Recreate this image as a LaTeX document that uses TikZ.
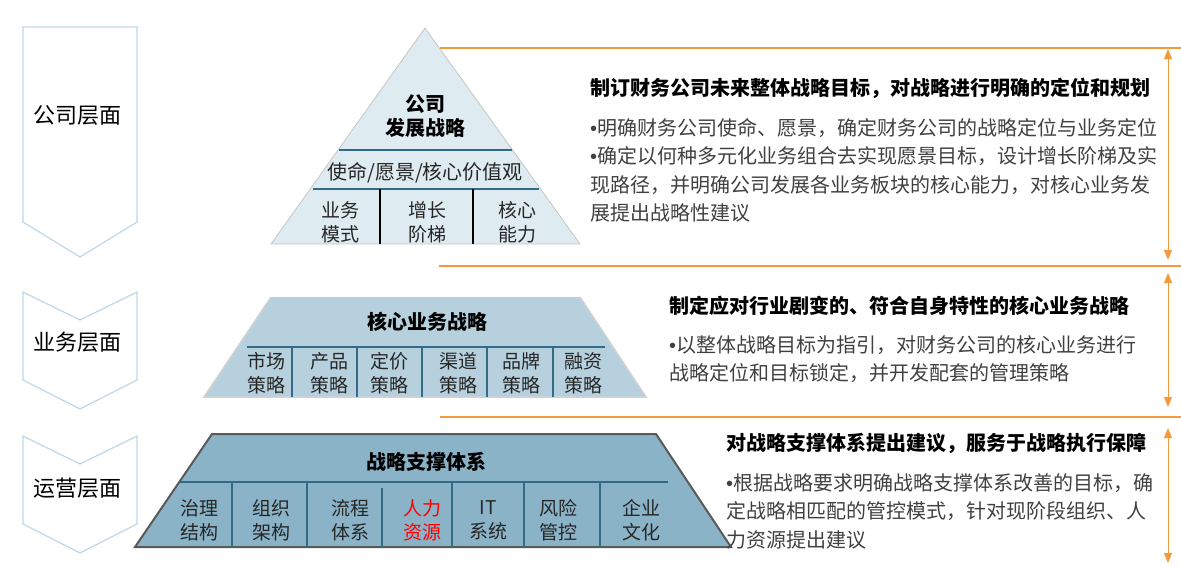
\documentclass[tikz,border=0pt]{standalone}
\usepackage{fontspec}
\setmainfont{Noto Sans CJK SC}
\newfontfamily\latinfont{Liberation Sans}
\usetikzlibrary{arrows.meta}

\definecolor{chev}{HTML}{BDD8E4}
\definecolor{pale}{HTML}{DEEBF1}
\definecolor{mid}{HTML}{B6D1DD}
\definecolor{deep}{HTML}{8BB3C7}
\definecolor{steel}{HTML}{336B84}
\definecolor{guide}{HTML}{F59A3C}
\definecolor{body}{HTML}{404040}

\newcommand{\bul}{{\latinfont •}}

\begin{document}
\begin{tikzpicture}[x=1pt,y=-1pt,
    layer/.style={draw=chev,line width=1.2pt},
    lvltext/.style={font=\fontsize{22}{26}\selectfont},
    band/.style={draw=steel,line width=2pt},
    cell/.style={align=center,inner sep=0,font=\fontsize{19}{24}\selectfont,text=black!85},
    title/.style={align=center,inner sep=0,font=\bfseries\fontsize{20}{24}\selectfont},
    head/.style={anchor=west,inner sep=0,font=\bfseries\fontsize{20}{24}\selectfont},
    txt/.style={anchor=north west,align=left,inner sep=0,font=\fontsize{20}{28.5}\selectfont,text=body},
    rule/.style={draw=guide,line width=1.2pt},
    span/.style={draw=guide,line width=1pt,{Triangle[width=8pt,length=10pt]}-{Triangle[width=8pt,length=10pt]}}]

    \useasboundingbox (0,0) rectangle (1181,566);

    % levels on the left
    \draw[layer] (23,27) -- (137,27) -- (137,222) -- (80,257) -- (23,222) -- cycle;
    \draw[layer] (23,292) -- (80,320) -- (137,292) -- (137,380) -- (80,409) -- (23,380) -- cycle;
    \draw[layer] (23,436) -- (80,464) -- (137,436) -- (137,524) -- (80,553) -- (23,524) -- cycle;
    \node[lvltext] (company) at (78,115) {公司层面};
    \node[lvltext] (business) at (78,342) {业务层面};
    \node[lvltext] (operation) at (78,488) {运营层面};

    % top: triangle
    \filldraw[fill=pale,draw=gray!45,line width=0.8pt] (425,28) -- (580,244) -- (271,244) -- cycle;
    \draw[band] (339,150) -- (512,150);
    \draw[band] (313,189) -- (539,189);
    \draw[line width=2.2pt] (380,189) -- (380,244);
    \draw[line width=2.2pt] (473,189) -- (473,244);
    \node[title] (strat) at (425,116) {公司\\发展战略};
    \node[cell,font=\fontsize{20}{24}\selectfont] (values) at (425,173) {使命/愿景/核心价值观};
    \node[cell] (model) at (340,222) {业务\\模式};
    \node[cell] (ladder) at (427,222) {增长\\阶梯};
    \node[cell] (ability) at (517,222) {核心\\能力};

    % middle: core business
    \fill[mid] (271,297) -- (580,297) -- (646,397) -- (204,397) -- cycle;
    \draw[gray!35,line width=1.5pt] (271,297) -- (204,397) -- (646,397) -- (580,297);
    \draw[band,line width=2.5pt] (247,347) -- (605,347);
    \draw[steel,line width=1.3pt] (292,347) -- (292,397);
    \draw[steel,line width=1.3pt] (357,347) -- (357,397);
    \draw[steel,line width=1.3pt] (422,347) -- (422,397);
    \draw[steel,line width=1.3pt] (487,347) -- (487,397);
    \draw[steel,line width=1.3pt] (553,347) -- (553,397);
    \node[title] (core) at (427,322) {核心业务战略};
    \node[cell] (market) at (266,373) {市场\\策略};
    \node[cell] (product) at (329,373) {产品\\策略};
    \node[cell] (price) at (389,373) {定价\\策略};
    \node[cell] (channel) at (458,373) {渠道\\策略};
    \node[cell] (brand) at (521,373) {品牌\\策略};
    \node[cell] (finance) at (583,373) {融资\\策略};

    % bottom: support system
    \filldraw[fill=deep,draw=black!65,line width=2pt] (212,434) -- (656,434) -- (731,547) -- (135,547) -- cycle;
    \draw[band] (180,482) -- (668,482);
    \draw[band] (232,482) -- (232,547);
    \draw[band] (307,482) -- (307,547);
    \draw[band] (382,488) -- (382,547);
    \draw[band] (452,482) -- (452,547);
    \draw[band] (524,482) -- (524,547);
    \draw[band] (600,482) -- (600,547);
    \node[title] (support) at (426,462) {战略支撑体系};
    \node[cell] (govern) at (199,520) {治理\\结构};
    \node[cell] (org) at (271,520) {组织\\架构};
    \node[cell] (process) at (350,520) {流程\\体系};
    \node[cell,text=red] (hr) at (422,520) {人力\\资源};
    \node[cell] (it) at (488,520) {IT\\系统};
    \node[cell] (risk) at (558,520) {风险\\管控};
    \node[cell] (culture) at (641,520) {企业\\文化};

    % guides and spans on the right
    \draw[rule] (440,48) -- (1181,48);
    \draw[rule] (439,266) -- (1181,266);
    \draw[rule] (440,417) -- (1181,417);
    \coordinate (s1t) at (1168,49);
    \coordinate (s1b) at (1168,260);
    \coordinate (s2t) at (1168,273);
    \coordinate (s2b) at (1168,407);
    \coordinate (s3t) at (1168,428);
    \coordinate (s3b) at (1168,563);
    \draw[span] (s1t) -- (s1b);
    \draw[span] (s2t) -- (s2b);
    \draw[span] (s3t) -- (s3b);

    % descriptions
    \node[head] (h1) at (590,88) {制订财务公司未来整体战略目标，对战略进行明确的定位和规划};
    \node[txt] (t1) at (590,118) {\bul 明确财务公司使命、愿景，确定财务公司的战略定位与业务定位\\
        \bul 确定以何种多元化业务组合去实现愿景目标，设计增长阶梯及实\\
        现路径，并明确公司发展各业务板块的核心能力，对核心业务发\\
        展提出战略性建议};
    \node[head] (h2) at (669,306) {制定应对行业剧变的、符合自身特性的核心业务战略};
    \node[txt] (t2) at (669,335) {\bul 以整体战略目标为指引，对财务公司的核心业务进行\\
        战略定位和目标锁定，并开发配套的管理策略};
    \node[head] (h3) at (726,443) {对战略支撑体系提出建议，服务于战略执行保障};
    \node[txt] (t3) at (726,473) {\bul 根据战略要求明确战略支撑体系改善的目标，确\\
        定战略相匹配的管控模式，针对现阶段组织、人\\
        力资源提出建议};

\end{tikzpicture}
\end{document}
